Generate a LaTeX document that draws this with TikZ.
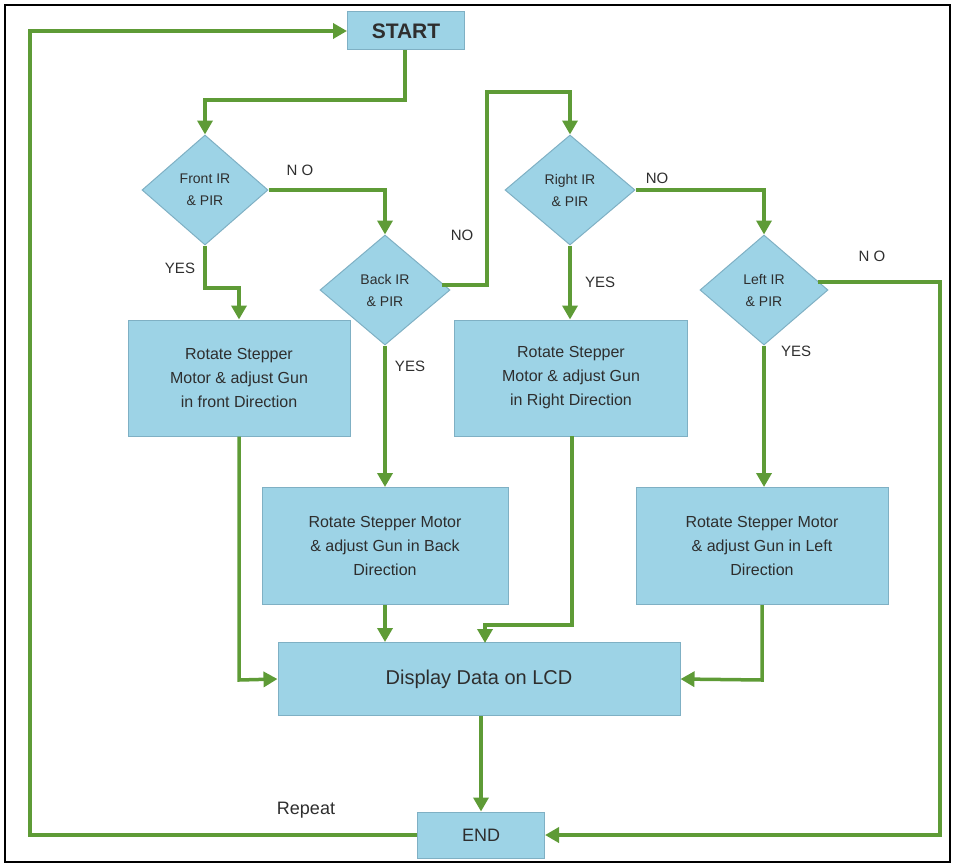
\documentclass[tikz,border=0pt]{standalone}
\usepackage{fontspec}
\setmainfont{Liberation Sans}
\usetikzlibrary{arrows.meta,shapes.geometric}
\definecolor{fillb}{HTML}{9DD3E6}
\definecolor{edgeb}{HTML}{7FB0C4}
\definecolor{grn}{HTML}{5E9B36}
\definecolor{txt}{HTML}{2E2E2E}
\begin{document}
\begin{tikzpicture}[x=1pt,y=-1pt,
  box/.style={draw=edgeb,line width=1pt,fill=fillb,text=txt,align=center,inner sep=0pt,font=\fontsize{16}{24}\selectfont},
  dia/.style={draw=edgeb,line width=1pt,fill=fillb,diamond,inner sep=0pt},
  dtx/.style={text=txt,align=center,font=\fontsize{14}{22}\selectfont},
  arr/.style={draw=grn,line width=3.5pt,-{Triangle[length=14pt,width=15pt]}},
  lbl/.style={text=txt,font=\fontsize{15}{18}\selectfont}]
\useasboundingbox (0,0) rectangle (955,867);
\draw[line width=2pt] (5,5) rectangle (950,862);
\node[box,minimum width=117pt,minimum height=38pt,font=\bfseries\fontsize{21}{24}\selectfont] (start) at (406,31) {START};
\node[dia,minimum width=126pt,minimum height=110pt] (front) at (205,190) {};
\node[dtx] at (205,190) {Front IR\\\& PIR};
\node[dia,minimum width=130pt,minimum height=110pt] (back) at (385,290) {};
\node[dtx] at (385,290) {Back IR\\\& PIR};
\node[dia,minimum width=130pt,minimum height=110pt] (right) at (570,190) {};
\node[dtx] at (570,190) {Right IR\\\& PIR};
\node[dia,minimum width=128pt,minimum height=110pt] (left) at (764,290) {};
\node[dtx] at (764,290) {Left IR\\\& PIR};
\node[box,minimum width=222pt,minimum height=116pt] (b1) at (239,378) {Rotate Stepper\\Motor \& adjust Gun\\in front Direction};
\node[box,minimum width=246pt,minimum height=117pt] (b2) at (385,546) {Rotate Stepper Motor\\\& adjust Gun in Back\\Direction};
\node[box,minimum width=233pt,minimum height=116pt] (b3) at (571,378) {Rotate Stepper\\Motor \& adjust Gun\\in Right Direction};
\node[box,minimum width=252pt,minimum height=117pt] (b4) at (762,546) {Rotate Stepper Motor\\\& adjust Gun in Left\\Direction};
\node[box,minimum width=402pt,minimum height=73pt,font=\fontsize{20}{24}\selectfont] (lcd) at (479,679) {Display Data on LCD};
\node[box,minimum width=127pt,minimum height=46pt,font=\fontsize{18}{20}\selectfont] (end) at (481,835) {END};
\coordinate (c1) at (405,100);
\coordinate (c2) at (205,100);
\coordinate (le) at (818,282);
\coordinate (bk) at (442,285);
\draw[arr] (start.south -| c1) -- (c1) -- (c2) -- (front.north);
\draw[arr] (front.east) -- (back.north |- front.east) -- (back.north);
\draw[arr] (front.south) -- (205,288) -- (b1.north |- 0,288) -- (b1.north);
\draw[arr] (bk) -- (487,285) -- (487,92) -- (right.north |- 0,92) -- (right.north);
\draw[arr] (back.south) -- (b2.north);
\draw[arr] (right.east) -- (left.north |- right.east) -- (left.north);
\draw[arr] (right.south) -- (right.south |- b3.north);
\draw[arr] (le) -- (940,282) -- (940,835) -- (end.east);
\draw[arr] (left.south) -- (left.south |- b4.north);
\draw[arr] (b1.south) -- (239,680) -- (lcd.west);
\draw[arr] (b2.south) -- (b2.south |- lcd.north);
\draw[arr] (572,436) -- (572,625) -- (485,625) -- (485,643);
\draw[arr] (b4.south) -- (762,680) -- (lcd.east);
\draw[arr] (lcd.south -| end.north) -- (end.north);
\draw[arr] (end.west) -- (30,835) -- (30,31) -- (start.west);
\node[lbl] at (300,170) {N O};
\node[lbl] at (180,268) {YES};
\node[lbl] at (462,235) {NO};
\node[lbl] at (410,366) {YES};
\node[lbl] at (657,178) {NO};
\node[lbl] at (600,282) {YES};
\node[lbl] at (872,256) {N O};
\node[lbl] at (796,351) {YES};
\node[lbl,font=\fontsize{18}{20}\selectfont] at (306,810) {Repeat};
\end{tikzpicture}
\end{document}
